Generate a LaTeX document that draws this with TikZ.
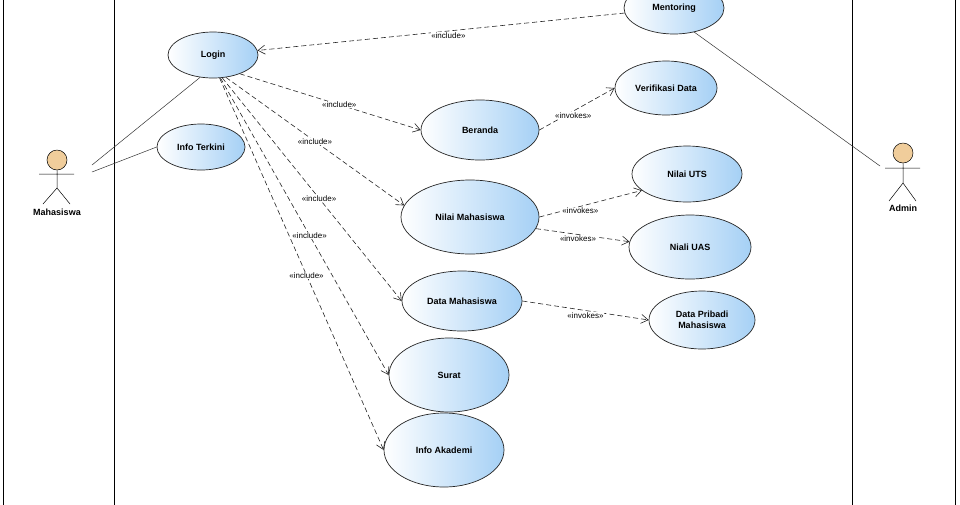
\documentclass[tikz,border=0pt]{standalone}
\usepackage{fontspec}
\setmainfont{Liberation Sans}
\usetikzlibrary{shapes.geometric,arrows.meta}
\begin{document}
\begin{tikzpicture}[x=1pt,y=-1pt,
  uc/.style={ellipse,draw=black!85,line width=0.7pt,left color=white,right color={rgb,255:red,165;green,208;blue,245},font=\fontsize{9}{11}\selectfont\bfseries,align=center,inner sep=0pt},
  dep/.style={draw=black!85,dashed,dash pattern=on 5pt off 3pt,line width=0.6pt,-{Straight Barb[length=7pt,width=9pt]}},
  lab/.style={font=\fontsize{8}{9}\selectfont,fill=white,inner sep=0.5pt},
  assoc/.style={draw=black!80,line width=0.5pt},
  actor/.style={draw=black,line width=0.5pt}]
\useasboundingbox (0,0) rectangle (960,504);
\begin{scope}
\clip (0,0) rectangle (960,504);
\fill[white] (0,0) rectangle (960,504);
\draw[line width=0.7pt] (3,-2) -- (3,506) (114,-2) -- (114,506) (852,-2) -- (852,506) (955,-2) -- (955,506);
\node[uc,minimum width=90pt,minimum height=46pt] (login) at (213,55) {Login};
\node[uc,minimum width=100pt,minimum height=52pt] (mentor) at (674,8) {Mentoring};
\node[uc,minimum width=88pt,minimum height=46pt] (info) at (201,147) {Info Terkini};
\node[uc,minimum width=118pt,minimum height=60pt] (beranda) at (480,130) {Beranda};
\node[uc,minimum width=102pt,minimum height=54pt] (verif) at (666,88) {Verifikasi Data};
\node[uc,minimum width=138pt,minimum height=74pt] (nilai) at (470,217) {Nilai Mahasiswa};
\node[uc,minimum width=110pt,minimum height=56pt] (uts) at (687,174) {Nilai UTS};
\node[uc,minimum width=122pt,minimum height=64pt] (uas) at (690,247) {Niali UAS};
\node[uc,minimum width=120pt,minimum height=60pt] (data) at (462,301) {Data Mahasiswa};
\node[uc,minimum width=106pt,minimum height=58pt] (pribadi) at (702,320) {Data Pribadi\\Mahasiswa};
\node[uc,minimum width=120pt,minimum height=74pt] (surat) at (449,375) {Surat};
\node[uc,minimum width=120pt,minimum height=74pt] (akad) at (444,450) {Info Akademi};
% actors
\node[circle,draw=black,line width=0.5pt,fill={rgb,255:red,240;green,205;blue,155},minimum size=20pt,inner sep=0pt] (h1) at (57,160) {};
\coordinate (b1) at (57,188);
\draw[actor] (h1) -- (b1) (39,174) -- (74,174) (43,204) -- (b1) -- (70,204);
\node[font=\fontsize{9}{10}\selectfont\bfseries] (m1) at (57,212) {Mahasiswa};
\coordinate (a1) at (92,165);
\coordinate (a2) at (92,172);
\node[circle,draw=black,line width=0.5pt,fill={rgb,255:red,240;green,205;blue,155},minimum size=20pt,inner sep=0pt] (h2) at (903,153) {};
\coordinate (b2) at (903,183);
\draw[actor] (h2) -- (b2) (885,168) -- (920,168) (889,201) -- (b2) -- (916,201);
\node[font=\fontsize{9}{10}\selectfont\bfseries] (m2) at (903,208) {Admin};
\coordinate (a3) at (880,166);
% associations
\draw[assoc] (a1) -- (login.-120);
\draw[assoc] (a2) -- (info.west);
\draw[assoc] (mentor.-50) -- (a3);
% includes
\draw[dep] (mentor) -- (login) node[lab,pos=0.48,below=1pt] {«include»};
\draw[dep] (login.-35) -- (beranda.west) node[lab,pos=0.55] {«include»};
\draw[dep] (login.-60) -- (nilai.170) node[lab,pos=0.5] {«include»};
\draw[dep] (login.-68) -- (data.west) node[lab,pos=0.54] {«include»};
\draw[dep] (login.-72) -- (surat.west) node[lab,pos=0.53] {«include»};
\draw[dep] (login.-74) -- (akad.west) node[lab,pos=0.53] {«include»};
% invokes
\draw[dep] (beranda.east) -- (verif.west) node[lab,pos=0.45,below=1pt] {«invokes»};
\draw[dep] (nilai.east) -- (uts.-160) node[lab,pos=0.4,below=1pt] {«invokes»};
\draw[dep] (nilai.-10) -- (uas.175) node[lab,pos=0.45,below=0pt] {«invokes»};
\draw[dep] (data.east) -- (pribadi.west) node[lab,pos=0.5,below=1pt] {«invokes»};
\end{scope}
\end{tikzpicture}
\end{document}
